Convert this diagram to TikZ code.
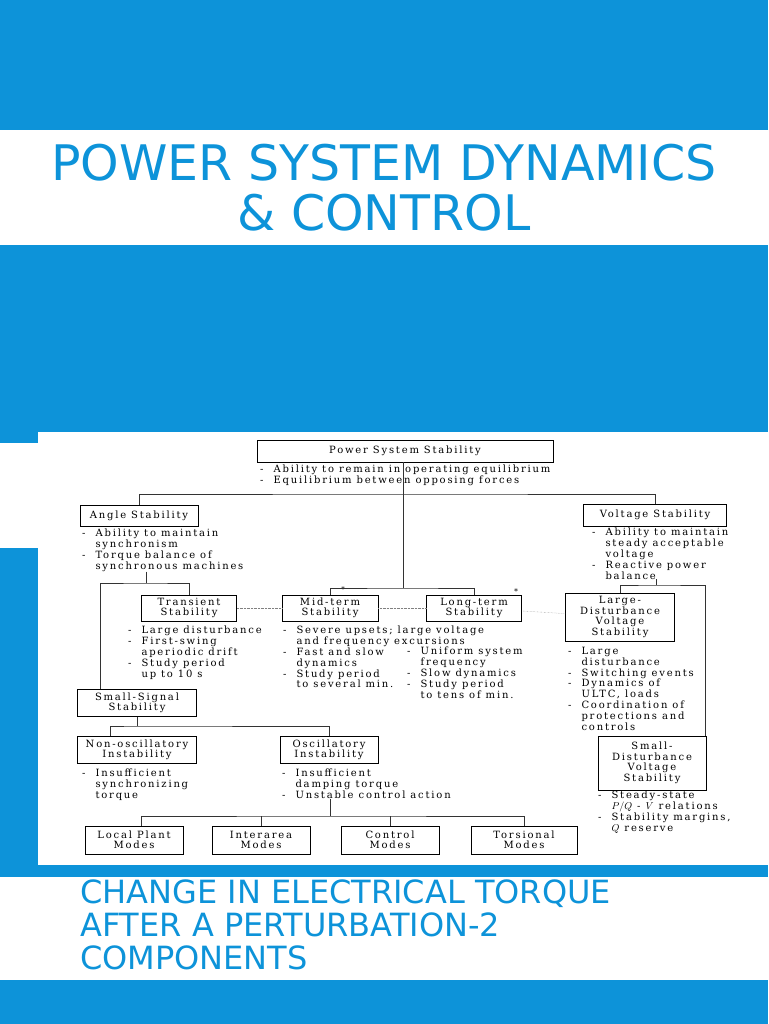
\documentclass[tikz,border=0pt]{standalone}
\usepackage{fontspec}
\setmainfont{DejaVu Sans}
\newfontfamily\diagfont{DejaVu Serif}[LetterSpace=18]
\usetikzlibrary{positioning}
\definecolor{slideblue}{HTML}{0D93D9}
\begin{document}
\begin{tikzpicture}[x=1pt,y=-1pt,
box/.style={draw=black, semithick, fill=white, inner sep=1pt, font=\diagfont\fontsize{10}{10.5}\selectfont, align=center},
notes/.style={anchor=north west, inner sep=0pt, font=\diagfont\fontsize{10}{10.8}\selectfont, align=left},
link/.style={draw=black!80, semithick},
dotlink/.style={draw=black!50, densely dotted}]

% slide background
\useasboundingbox (0,0) rectangle (768,1024);
\fill[slideblue] (0,0) rectangle (768,130);
\fill[slideblue] (0,245) rectangle (768,443);
\fill[slideblue] (0,548) rectangle (38,865);
\fill[slideblue] (0,865) rectangle (768,877);
\fill[slideblue] (0,980) rectangle (768,1024);
\fill[white] (38,432) rectangle (768,865);

\node[text=slideblue, font=\fontsize{49}{50}\selectfont, align=center] (title) at (384,188) {POWER SYSTEM DYNAMICS\\\& CONTROL};
\node[text=slideblue, font=\fontsize{32}{33}\selectfont, align=left, anchor=north west, inner sep=0pt] (subtitle) at (80,880) {CHANGE IN ELECTRICAL TORQUE\\AFTER A PERTURBATION-2\\COMPONENTS};

% boxes
\node[box, minimum width=296pt, minimum height=22pt] (pss) at (405,451) {Power System Stability};
\node[box, minimum width=118pt, minimum height=21pt] (angle) at (139,516) {Angle Stability};
\node[box, minimum width=143pt, minimum height=22pt] (volt) at (655,515) {Voltage Stability};
\node[box, minimum width=95pt, minimum height=26pt] (trans) at (189,608) {Transient\\Stability};
\node[box, minimum width=96pt, minimum height=26pt] (mid) at (330,608) {Mid-term\\Stability};
\node[box, minimum width=95pt, minimum height=26pt] (long) at (474,608) {Long-term\\Stability};
\node[box, minimum width=109pt, minimum height=48pt] (large) at (620,617) {Large-\\Disturbance\\Voltage\\Stability};
\node[box, minimum width=119pt, minimum height=27pt] (small) at (137,703) {Small-Signal\\Stability};
\node[box, minimum width=119pt, minimum height=27pt] (nonosc) at (137,750) {Non-oscillatory\\Instability};
\node[box, minimum width=98pt, minimum height=27pt] (osc) at (329,750) {Oscillatory\\Instability};
\node[box, minimum width=108pt, minimum height=54pt] (smalldist) at (652,763) {Small-\\Disturbance\\Voltage\\Stability};
\node[box, minimum width=98pt, minimum height=28pt] (local) at (134,840) {Local Plant\\Modes};
\node[box, minimum width=98pt, minimum height=28pt] (inter) at (261,840) {Interarea\\Modes};
\node[box, minimum width=98pt, minimum height=28pt] (control) at (390,840) {Control\\Modes};
\node[box, minimum width=106pt, minimum height=28pt] (tors) at (524,840) {Torsional\\Modes};

% notes
\node[notes] (pssn) at (260,465) {-~~Ability to remain in operating equilibrium\\-~~Equilibrium between opposing forces};
\node[notes] (anglen) at (82,529) {-~~Ability to maintain\\\phantom{-~~}synchronism\\-~~Torque balance of\\\phantom{-~~}synchronous machines};
\node[notes] (voltn) at (592,528) {-~~Ability to maintain\\\phantom{-~~}steady acceptable\\\phantom{-~~}voltage\\-~~Reactive power\\\phantom{-~~}balance};
\node[notes] (transn) at (128,626) {-~~Large disturbance\\-~~First-swing\\\phantom{-~~}aperiodic drift\\-~~Study period\\\phantom{-~~}up to 10 s};
\node[notes] (midn) at (283,626) {-~~Severe upsets; large voltage\\\phantom{-~~}and frequency excursions\\-~~Fast and slow\\\phantom{-~~}dynamics\\-~~Study period\\\phantom{-~~}to several min.};
\node[notes] (longn) at (407,647) {-~~Uniform system\\\phantom{-~~}frequency\\-~~Slow dynamics\\-~~Study period\\\phantom{-~~}to tens of min.};
\node[notes] (largen) at (568,647) {-~~Large\\\phantom{-~~}disturbance\\-~~Switching events\\-~~Dynamics of\\\phantom{-~~}ULTC, loads\\-~~Coordination of\\\phantom{-~~}protections and\\\phantom{-~~}controls};
\node[notes] (nonoscn) at (82,769) {-~~Insufficient\\\phantom{-~~}synchronizing\\\phantom{-~~}torque};
\node[notes] (oscn) at (282,769) {-~~Insufficient\\\phantom{-~~}damping torque\\-~~Unstable control action};
\node[notes] (smalldistn) at (598,791) {-~~Steady-state\\\phantom{-~~}$P/Q$ - $V$ relations\\-~~Stability margins,\\\phantom{-~~}$Q$ reserve};
\node[font=\footnotesize] (star1) at (343,590) {*};
\node[font=\footnotesize] (star2) at (516,592) {*};

% junctions
\coordinate (j1) at (403,494);
\coordinate (j2) at (403,588);
\coordinate (j3) at (146,583);
\coordinate (j4) at (656,585);
\coordinate (j5) at (137,726);
\coordinate (j6) at (330,816);

% tree
\draw[link] (pss.south -| j1) -- (j2);
\draw[link] (angle.north) |- (j1) -| (volt.north);
\draw[link] (mid.north) |- (j2) -| (long.north);
\draw[link] (j3 |- anglen.south) -- (j3);
\draw[link] (small.north -| 100,0) |- (j3) -| (trans.north);
\draw[link] (j4 |- voltn.south) -- (j4);
\draw[link] (large.north) |- (j4) -| (smalldist.north -| 705,0);
\draw[link] (small.south) -- (j5);
\draw[link] (nonosc.north -| 110,0) |- (j5) -| (osc.north);
\draw[link] (j6 |- oscn.south) -- (j6);
\draw[link] (local.north -| 141,0) |- (j6) -| (tors.north);
\draw[link] (inter.north) -- (inter.north |- j6);
\draw[link] (control.north) -- (control.north |- j6);
\draw[dotlink] (trans) -- (mid);
\draw[dotlink] (mid) -- (long);
\draw[dotlink] (long) -- (large);
\end{tikzpicture}
\end{document}
